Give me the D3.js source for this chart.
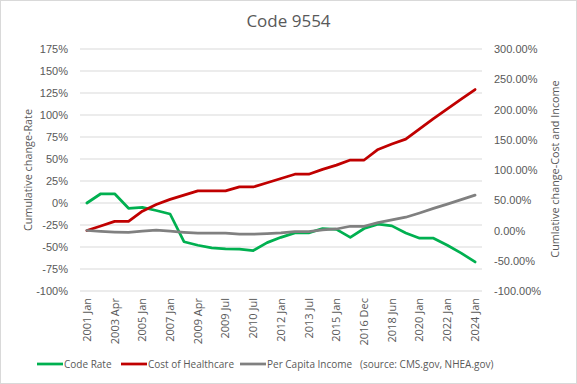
<!DOCTYPE html>
<html>
<head>
<meta charset="utf-8">
<script src="https://cdn.jsdelivr.net/npm/d3@7"></script>
<style>
  body { margin: 0; background: #fff; }
  svg { font-family: "Open Sans", sans-serif; }
</style>
</head>
<body>
<div class="chart"></div>
<script>
// categorie (solo una su due viene mostrata sull'asse)
const categories = [
  "2001 Jan", "2002 Jan", "2003 Apr", "2004 Jan", "2005 Jan", "2006 Jan",
  "2007 Jan", "2008 Jan", "2009 Apr", "2009 May", "2009 Jul", "2010 Jan",
  "2010 Jul", "2011 Jan", "2012 Jan", "2012 Jul", "2013 Jul", "2014 Jan",
  "2015 Jan", "2016 Jan", "2016 Dec", "2017 Jun", "2018 Jun", "2019 Jan",
  "2020 Jan", "2021 Jan", "2022 Jan", "2023 Jan", "2024 Jan"
];

// valori in percentuale
const codeRate = [0, 10.5, 10.5, -6, -5, -8.5, -12.5, -44, -48, -51, -52, -52.5, -54, -45,
  -39, -34, -34, -29, -30, -39, -29, -24, -26, -34, -40, -40, -48, -57, -67];
const costHealthcare = [0, 7.5, 15, 15, 32, 43, 51.5, 58.5, 65.5, 65.5, 65.5, 72, 72, 79,
  86, 93, 93, 101, 108, 116.5, 116.5, 134, 143, 151, 168, 185, 201, 217, 233];
const perCapitaIncome = [0, -1.5, -2.5, -3, -1, 0.5, -1, -3, -4.5, -4.5, -4.5, -6, -6, -5,
  -4, -2, -2, 1, 2.5, 7, 7, 13, 17.5, 22, 29, 36.5, 43.5, 51, 58.5];

const leftTicks = [-100, -75, -50, -25, 0, 25, 50, 75, 100, 125, 150, 175];
const rightTicks = [-100, -50, 0, 50, 100, 150, 200, 250, 300];

const width = 577;
const height = 384;
const plot = { left: 80, right: 482, top: 49, bottom: 291 };
const textColor = '#595959';

const svg = d3.select('.chart')
    .append('svg')
    .attr('width', width)
    .attr('height', height);

// bordo dell'area del grafico
svg.append('rect')
    .attr('x', 0.5).attr('y', 0.5)
    .attr('width', width - 1).attr('height', height - 1)
    .attr('fill', '#fff')
    .attr('stroke', '#d9d9d9');

const x = d3.scalePoint()
    .domain(categories)
    .range([plot.left, plot.right])
    .padding(0.5);

const yLeft = d3.scaleLinear().domain([-100, 175]).range([plot.bottom, plot.top]);
const yRight = d3.scaleLinear().domain([-100, 300]).range([plot.bottom, plot.top]);

// griglia
svg.append('g')
    .selectAll('line')
    .data(leftTicks)
    .join('line')
    .attr('x1', plot.left).attr('x2', plot.right)
    .attr('y1', d => yLeft(d)).attr('y2', d => yLeft(d))
    .attr('stroke', '#d9d9d9')
    .attr('stroke-width', 1);

// asse sinistro
const axisL = svg.append('g')
    .attr('transform', `translate(${plot.left - 12},0)`)
    .call(d3.axisLeft(yLeft).tickValues(leftTicks).tickSize(0).tickPadding(0)
        .tickFormat(d => d + '%'));
axisL.select('.domain').remove();
axisL.selectAll('text').attr('fill', textColor).style('font-size', '11px');

// asse destro
const axisR = svg.append('g')
    .attr('transform', `translate(${plot.right + 12},0)`)
    .call(d3.axisRight(yRight).tickValues(rightTicks).tickSize(0).tickPadding(0)
        .tickFormat(d => d.toFixed(2) + '%'));
axisR.select('.domain').remove();
axisR.selectAll('text').attr('fill', textColor).style('font-size', '11px');

// etichette asse x (una ogni due categorie)
svg.append('g')
    .selectAll('text')
    .data(categories.filter((d, i) => i % 2 === 0))
    .join('text')
    .attr('transform', d => `translate(${x(d)},298) rotate(-90)`)
    .attr('dy', '0.35em')
    .attr('text-anchor', 'end')
    .attr('fill', textColor)
    .style('font-size', '11px')
    .text(d => d);

// titoli
svg.append('text')
    .attr('x', width / 2).attr('y', 27)
    .attr('text-anchor', 'middle')
    .attr('fill', textColor)
    .style('font-size', '17px')
    .text('Code 9554');

svg.append('text')
    .attr('transform', 'translate(28,170) rotate(-90)')
    .attr('dy', '0.35em')
    .attr('text-anchor', 'middle')
    .attr('fill', textColor)
    .style('font-size', '10.8px')
    .text('Cumulative change-Rate');

svg.append('text')
    .attr('transform', 'translate(555,169) rotate(-90)')
    .attr('dy', '0.35em')
    .attr('text-anchor', 'middle')
    .attr('fill', textColor)
    .style('font-size', '10.8px')
    .text('Cumlative change-Cost and Income');

// serie
const series = [
  { name: 'Code Rate', values: codeRate, y: yLeft, color: '#00B050' },
  { name: 'Cost of Healthcare', values: costHealthcare, y: yRight, color: '#C00000' },
  { name: 'Per Capita Income', values: perCapitaIncome, y: yRight, color: '#808080' }
];

series.forEach(s => {
  const line = d3.line()
      .x((d, i) => x(categories[i]))
      .y(d => s.y(d));
  svg.append('path')
      .datum(s.values)
      .attr('fill', 'none')
      .attr('stroke', s.color)
      .attr('stroke-width', 2.75)
      .attr('stroke-linejoin', 'round')
      .attr('stroke-linecap', 'round')
      .attr('d', line);
});

// legenda
const legendX = [37, 121, 240];
const legend = svg.append('g');
series.forEach((s, i) => {
  legend.append('line')
      .attr('x1', legendX[i]).attr('x2', legendX[i] + 26)
      .attr('y1', 364).attr('y2', 364)
      .attr('stroke', s.color)
      .attr('stroke-width', 2.75);
  legend.append('text')
      .attr('x', legendX[i] + 27).attr('y', 364)
      .attr('dy', '0.35em')
      .attr('fill', textColor)
      .style('font-size', '10px')
      .text(s.name);
});
legend.append('text')
    .attr('x', 360).attr('y', 364)
    .attr('dy', '0.35em')
    .attr('fill', textColor)
    .style('font-size', '10px')
    .text('(source: CMS.gov, NHEA.gov)');
</script>
</body>
</html>
